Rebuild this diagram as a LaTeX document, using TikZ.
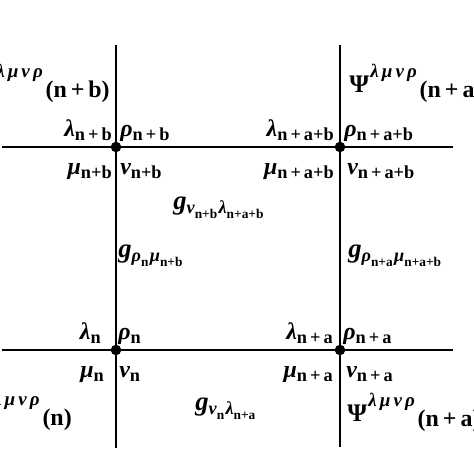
\documentclass[tikz,border=0pt]{standalone}
\usepackage{fontspec}
\setmainfont{Liberation Serif}
\usepackage{tikz}

% Index labels at a lattice site
\newcommand{\site}[2]{{\fontsize{17}{19}\selectfont\bfseries\itshape #1}\raisebox{-3.5pt}{\fontsize{13}{15}\selectfont\bfseries #2}}
% Field on a site
\newcommand{\wave}[1]{{\fontsize{18}{20}\selectfont\bfseries Ψ}\kern1pt\raisebox{10pt}{\fontsize{13.5}{15}\selectfont\bfseries\itshape λ\kern2.2pt μ\kern2.2pt ν\kern2.2pt ρ}\kern2pt\raisebox{-4pt}{\fontsize{17}{19}\selectfont\bfseries #1}}
% Metric on a link
\newcommand{\metric}[4]{{\fontsize{19}{21}\selectfont\bfseries\itshape g}\raisebox{-3pt}{\fontsize{13}{15}\selectfont\bfseries\itshape #1\raisebox{-3.5pt}{\fontsize{9.5}{11}\selectfont\upshape #2}\kern1pt#3\raisebox{-3.5pt}{\fontsize{9.5}{11}\selectfont\upshape #4}}}

\tikzset{
  lattice/.style={line width=2pt,black},
  sitedot/.style={circle,fill=black,inner sep=0pt,minimum size=7.5pt},
}

\begin{document}
\begin{tikzpicture}[x=0.025cm,y=-0.025cm]
    \useasboundingbox (0,0) rectangle (474,474);
    \clip (0,0) rectangle (474,474);
    % Line ends
    \coordinate (w0) at (2,350);
    \coordinate (e0) at (453,350);
    \coordinate (w1) at (2,147);
    \coordinate (e1) at (453,147);
    \coordinate (t0) at (116,45);
    \coordinate (b0) at (116,448);
    \coordinate (t1) at (340,45);
    \coordinate (b1) at (340,447);
    % Lattice
    \draw[lattice] (w0) -- (e0);
    \draw[lattice] (w1) -- (e1);
    \draw[lattice] (t0) -- (b0);
    \draw[lattice] (t1) -- (b1);
    % Sites
    \node[sitedot] (s00) at (116,350) {};
    \node[sitedot] (s10) at (340,350) {};
    \node[sitedot] (s01) at (116,147) {};
    \node[sitedot] (s11) at (340,147) {};
    % Site n+b
    \node[anchor=base east,inner sep=0pt] (lam01) at (112,136) {\site{λ}{n\,+\,b}};
    \node[anchor=base west,inner sep=0pt] (rho01) at (120,136) {\site{ρ}{n\,+\,b}};
    \node[anchor=base east,inner sep=0pt] (mu01) at (112,174) {\site{μ}{n+b}};
    \node[anchor=base west,inner sep=0pt] (nu01) at (120,174) {\site{ν}{n+b}};
    % Site n+a+b
    \node[anchor=base east,inner sep=0pt] (lam11) at (334,136) {\site{λ}{n\,+\,a+b}};
    \node[anchor=base west,inner sep=0pt] (rho11) at (344,136) {\site{ρ}{n\,+\,a+b}};
    \node[anchor=base east,inner sep=0pt] (mu11) at (334,174) {\site{μ}{n\,+\,a+b}};
    \node[anchor=base west,inner sep=0pt] (nu11) at (347,174) {\site{ν}{n\,+\,a+b}};
    % Site n
    \node[anchor=base east,inner sep=0pt] (lam00) at (101,339) {\site{λ}{n}};
    \node[anchor=base west,inner sep=0pt] (rho00) at (118,339) {\site{ρ}{n}};
    \node[anchor=base east,inner sep=0pt] (mu00) at (104,377) {\site{μ}{n}};
    \node[anchor=base west,inner sep=0pt] (nu00) at (119,377) {\site{ν}{n}};
    % Site n+a
    \node[anchor=base east,inner sep=0pt] (lam10) at (333,339) {\site{λ}{n\,+\,a}};
    \node[anchor=base west,inner sep=0pt] (rho10) at (343,339) {\site{ρ}{n\,+\,a}};
    \node[anchor=base east,inner sep=0pt] (mu10) at (333,377) {\site{μ}{n\,+\,a}};
    \node[anchor=base west,inner sep=0pt] (nu10) at (346,377) {\site{ν}{n\,+\,a}};
    % Fields
    \node[anchor=base east,inner sep=0pt] (psi01) at (110,92) {\wave{(n\,+\,b)}};
    \node[anchor=base west,inner sep=0pt] (psi11) at (349,92) {\wave{(n\,+\,a\,+\,b)}};
    \node[anchor=base east,inner sep=0pt] (psi00) at (72,420) {\wave{(n)}};
    \node[anchor=base west,inner sep=0pt] (psi10) at (347,421) {\wave{(n\,+\,a)}};
    % Metrics
    \node[anchor=base west,inner sep=0pt] (g1) at (173,209) {\metric{ν}{n+b}{λ}{n+a+b}};
    \node[anchor=base west,inner sep=0pt] (g2) at (118,257) {\metric{ρ}{n}{μ}{n+b}};
    \node[anchor=base west,inner sep=0pt] (g3) at (348,257) {\metric{ρ}{n+a}{μ}{n+a+b}};
    \node[anchor=base west,inner sep=0pt] (g4) at (195,410) {\metric{ν}{n}{λ}{n+a}};
\end{tikzpicture}
\end{document}
